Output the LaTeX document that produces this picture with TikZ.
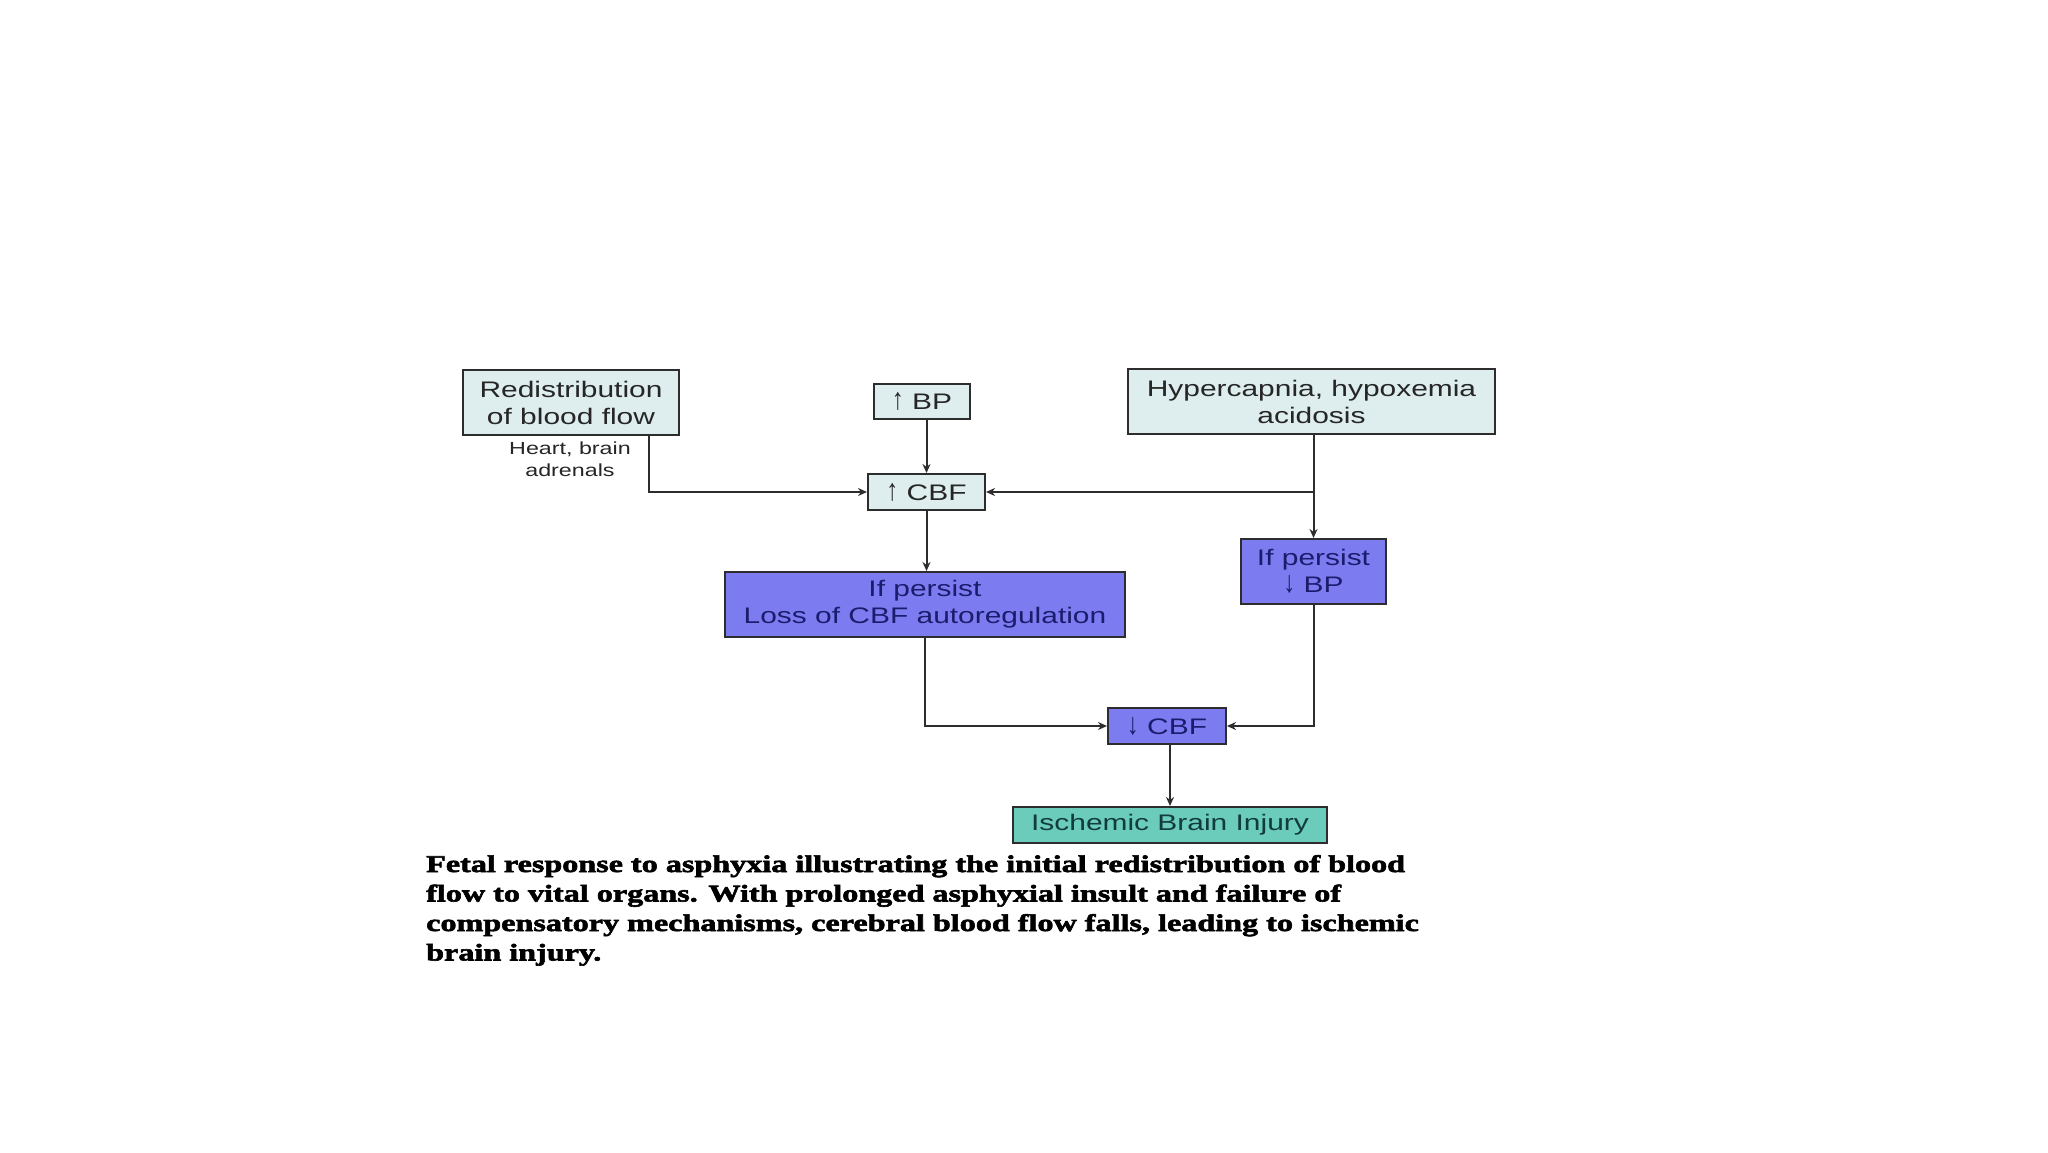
\documentclass[tikz,border=0pt]{standalone}
\usepackage{fontspec}
\usetikzlibrary{arrows.meta}
\newfontfamily\bxf{Liberation Sans}[FakeStretch=1.33]
\newfontfamily\capf{Liberation Serif}[FakeStretch=1.34,BoldFeatures={FakeStretch=1.34,FakeBold=2.5}]
\definecolor{lightbox}{RGB}{222,238,238}
\definecolor{purplebox}{RGB}{124,124,240}
\definecolor{tealbox}{RGB}{108,204,188}
\definecolor{edgegray}{RGB}{45,45,45}
\definecolor{navytext}{RGB}{28,28,110}
\definecolor{tealtext}{RGB}{16,60,60}
\newcommand{\upar}{\scalebox{0.8}[1.35]{↑}}
\newcommand{\dnar}{\scalebox{0.8}[1.35]{↓}}
\tikzset{
  base/.style={draw=edgegray, line width=2pt, inner sep=0pt, align=center,
    font=\bxf\fontsize{22.5}{27}\selectfont},
  lbox/.style={base, fill=lightbox, text=black!85},
  pbox/.style={base, fill=purplebox, text=navytext},
  tbox/.style={base, fill=tealbox, text=tealtext},
  conn/.style={draw=edgegray, line width=2pt},
  arr/.style={conn, -{Stealth[length=9pt,width=8pt]}},
  capline/.style={anchor=base west, inner sep=0pt, font=\capf\bfseries\fontsize{24}{29}\selectfont}
}
\begin{document}
\begin{tikzpicture}[x=1pt,y=-1pt]
\path[fill=white] (0,0) rectangle (2048,1152);
\useasboundingbox (0,0) rectangle (2048,1152);

\node[lbox, minimum width=216pt, minimum height=65pt] (redis) at (571,402.5) {Redistribution\\of blood flow};
\node[align=center, inner sep=0pt, font=\bxf\fontsize{17.5}{22}\selectfont, text=black!85] (heart) at (570,459) {Heart, brain\\adrenals};
\node[lbox, minimum width=96pt, minimum height=35pt] (bp) at (922,401.5) {\upar\ BP};
\node[lbox, minimum width=117pt, minimum height=36pt] (cbfup) at (926.5,492) {\upar\ CBF};
\node[lbox, minimum width=367pt, minimum height=65pt] (hyp) at (1311.5,401.5) {Hypercapnia, hypoxemia\\acidosis};
\node[pbox, minimum width=400pt, minimum height=65pt] (loss) at (925,604.5) {If persist\\Loss of CBF autoregulation};
\node[pbox, minimum width=145pt, minimum height=65pt] (bpdown) at (1313.5,571.5) {If persist\\\dnar\ BP};
\node[pbox, minimum width=118pt, minimum height=36pt] (cbfdown) at (1167,726) {\dnar\ CBF};
\node[tbox, minimum width=314pt, minimum height=36pt] (isch) at (1170,825) {Ischemic Brain Injury};

\coordinate (junc) at (bpdown.north |- cbfup.east);
\draw[arr] ([xshift=78pt]redis.south) |- (cbfup.west);
\draw[arr] (cbfup.north |- bp.south) -- (cbfup.north);
\draw[arr] (bpdown.north |- hyp.south) -- (bpdown.north);
\draw[arr] (junc) -- (cbfup.east);
\draw[arr] (cbfup.south) -- (cbfup.south |- loss.north);
\draw[arr] (loss.south) |- (cbfdown.west);
\draw[arr] (bpdown.south) |- (cbfdown.east);
\draw[arr] (isch.north |- cbfdown.south) -- (isch.north);

\node[capline] (cap1) at (426,872) {Fetal response to asphyxia illustrating the initial redistribution of blood};
\node[capline] (cap2) at (426,901.5) {flow to vital organs. With prolonged asphyxial insult and failure of};
\node[capline] (cap3) at (426,931) {compensatory mechanisms, cerebral blood flow falls, leading to ischemic};
\node[capline] (cap4) at (426,960.5) {brain injury.};
\end{tikzpicture}
\end{document}
